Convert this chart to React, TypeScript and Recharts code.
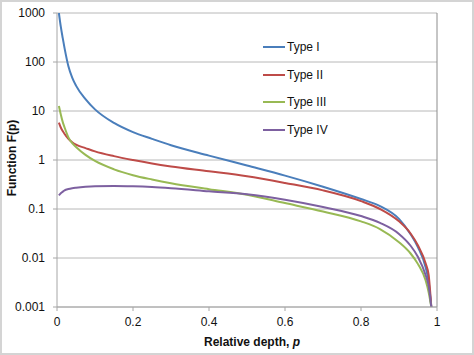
import { LineChart, Line, XAxis, YAxis, CartesianGrid, ReferenceLine } from "recharts";

// relative depth p and the four F(p) curves
const P = [0.005, 0.01, 0.015, 0.02, 0.03, 0.04, 0.05, 0.075, 0.1, 0.15, 0.2, 0.25, 0.3, 0.4, 0.5, 0.6, 0.7, 0.8, 0.85, 0.9, 0.93, 0.95, 0.97, 0.978, 0.985];
const TYPE_I = [1000, 525, 310, 190, 82, 48, 33, 17.5, 10.8, 5.7, 3.7, 2.7, 2.0, 1.23, 0.77, 0.48, 0.285, 0.16, 0.115, 0.063, 0.031, 0.0165, 0.0065, 0.0033, 0.001];
const TYPE_II = [5.8, 4.6, 3.9, 3.4, 2.7, 2.3, 2.05, 1.75, 1.5, 1.2, 1.0, 0.85, 0.74, 0.59, 0.465, 0.34, 0.24, 0.145, 0.1, 0.056, 0.032, 0.018, 0.0078, 0.0045, 0.001];
const TYPE_III = [12.6, 8.5, 6, 4.6, 2.9, 2.2, 1.85, 1.27, 0.955, 0.645, 0.49, 0.4, 0.335, 0.254, 0.195, 0.132, 0.089, 0.056, 0.039, 0.021, 0.0125, 0.0075, 0.0035, 0.002, 0.001];
const TYPE_IV = [0.19, 0.21, 0.225, 0.24, 0.255, 0.265, 0.272, 0.285, 0.292, 0.295, 0.29, 0.28, 0.265, 0.23, 0.2, 0.155, 0.11, 0.072, 0.052, 0.031, 0.018, 0.0105, 0.0045, 0.0027, 0.001];

const X_TICKS = [0, 0.2, 0.4, 0.6, 0.8, 1];
const Y_TICKS = [0.001, 0.01, 0.1, 1, 10, 100, 1000];

const SERIES = [
  { key: "t1", name: "Type I", color: "#4a7ebb", values: TYPE_I },
  { key: "t2", name: "Type II", color: "#be4b48", values: TYPE_II },
  { key: "t3", name: "Type III", color: "#98b954", values: TYPE_III },
  { key: "t4", name: "Type IV", color: "#7d60a0", values: TYPE_IV },
];

const rows = P.map((p, i) => {
  const r: Record<string, number> = { p };
  SERIES.forEach((s) => (r[s.key] = s.values[i]));
  return r;
});

const FONT = "'Liberation Sans', Arial, sans-serif";

// legend drawn as an overlay so it doesn't eat plot height
function LegendBox() {
  return (
    <div style={{ position: "absolute", left: 263, top: 33, fontFamily: FONT, fontSize: 12, color: "#111" }}>
      {SERIES.map((s) => (
        <div key={s.key} style={{ display: "flex", alignItems: "center", height: 27.7 }}>
          <span style={{ display: "inline-block", width: 22, height: 2, background: s.color, marginRight: 2 }} />
          <span>{s.name}</span>
        </div>
      ))}
    </div>
  );
}

export default function App() {
  return (
    <div style={{ position: "absolute", left: 0, top: 0, width: 474, height: 355, boxSizing: "border-box", border: "2px solid #d4d4d4", background: "#fff" }}>
      <div style={{ position: "absolute", left: -2, top: -2 }}>
        <LineChart width={474} height={355} data={rows} margin={{ top: 13, right: 37, bottom: 18, left: 0 }}>
          <CartesianGrid vertical={false} stroke="#b8b8b8" />
          <XAxis
            dataKey="p"
            type="number"
            domain={[0, 1]}
            ticks={X_TICKS}
            height={30}
            tickSize={4}
            stroke="#a6a6a6"
            tick={{ fill: "#111", fontSize: 12, fontFamily: FONT }}
            tickMargin={6}
            label={{
              content: () => (
                <text x={252} y={346} textAnchor="middle" fontFamily={FONT} fontSize={12} fontWeight="bold" fill="#111">
                  Relative depth, <tspan fontStyle="italic">p</tspan>
                </text>
              ),
            }}
          />
          <YAxis
            scale="log"
            domain={[0.001, 1000]}
            ticks={Y_TICKS}
            allowDataOverflow
            width={57}
            tickSize={4}
            stroke="#a6a6a6"
            tick={{ fill: "#111", fontSize: 12, fontFamily: FONT }}
            tickMargin={8}
            label={{
              content: () => (
                <text x={16} y={158} transform="rotate(-90 16 158)" textAnchor="middle" fontFamily={FONT} fontSize={12} fontWeight="bold" fill="#111">
                  Function F(p)
                </text>
              ),
            }}
          />
          <ReferenceLine x={1} stroke="#8c8c8c" />
          {SERIES.map((s) => (
            <Line key={s.key} dataKey={s.key} name={s.name} stroke={s.color} strokeWidth={2} dot={false} type="monotone" isAnimationActive={false} />
          ))}
        </LineChart>
        <LegendBox />
      </div>
    </div>
  );
}
